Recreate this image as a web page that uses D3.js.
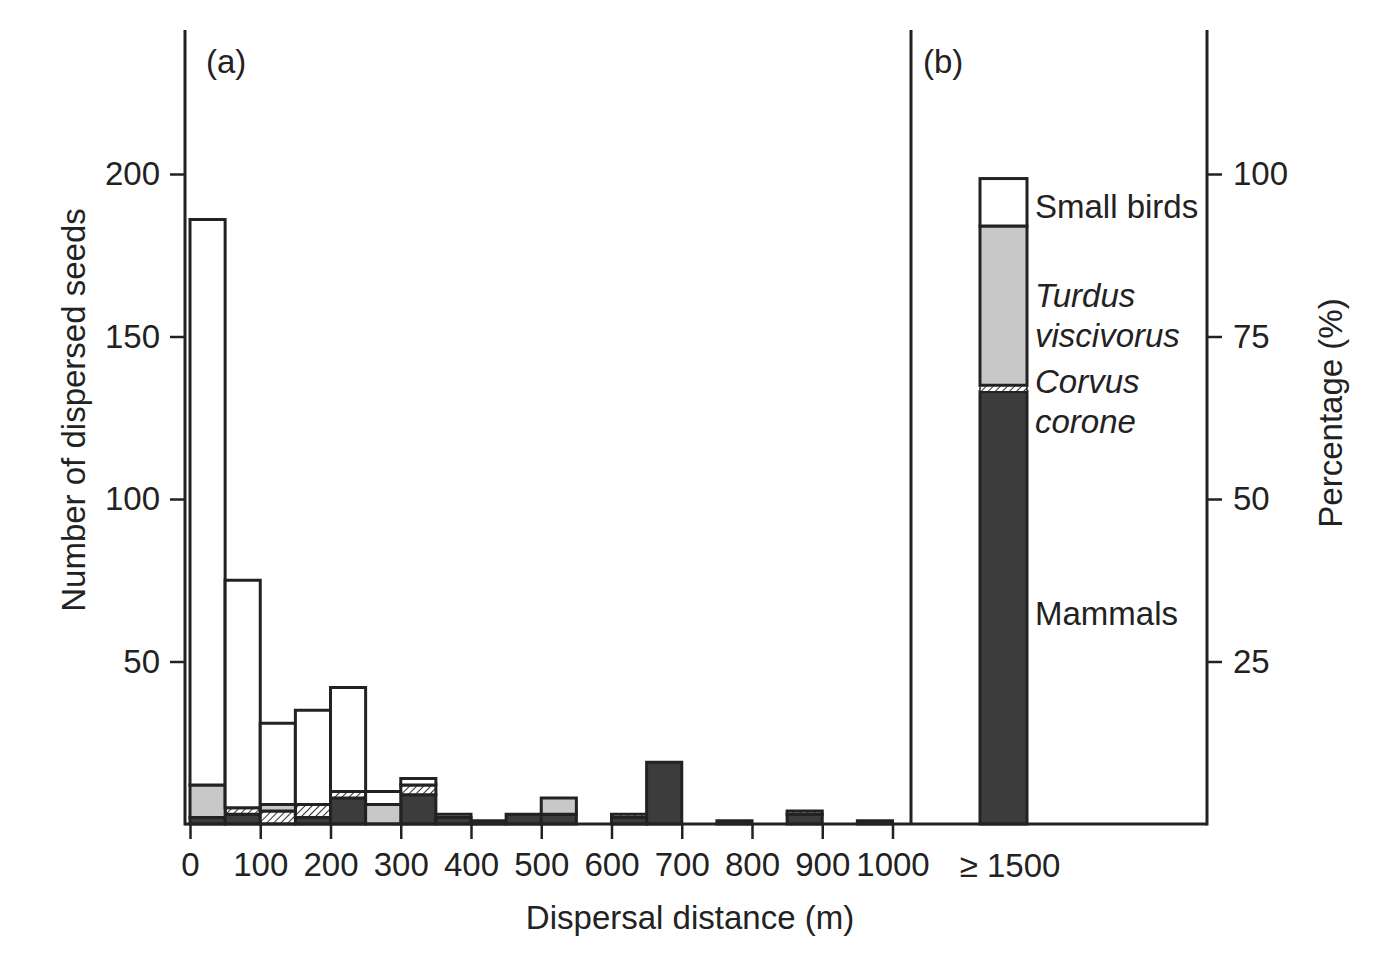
<!DOCTYPE html>
<html>
<head>
<meta charset="utf-8">
<script src="https://cdn.jsdelivr.net/npm/d3@7"></script>
<style>
  body { margin: 0; background: #fff; }
  text { font-family: "Liberation Sans", Arial, Helvetica, sans-serif; fill: #222; }
</style>
</head>
<body>
<div id="viz"></div>
<script>
var width = 1386
var height = 966

// (a) bins of 50 m, stacked counts
var binStarts = [0, 50, 100, 150, 200, 250, 300, 350, 400, 450, 500, 550, 600, 650, 700, 750, 800, 850, 900, 950];
var mammals   = [2, 3, 0, 2, 8, 0, 9, 2, 1, 3, 3, 0, 2, 19, 0, 1, 0, 3, 0, 1];
var corvus    = [0, 2, 4, 4, 2, 0, 3, 0, 0, 0, 0, 0, 1, 0, 0, 0, 0, 1, 0, 0];
var turdus    = [10, 0, 2, 0, 0, 6, 0, 1, 0, 0, 5, 0, 0, 0, 0, 0, 0, 0, 0, 0];
var smallBirds = [174, 70, 25, 29, 32, 4, 2, 0, 0, 0, 0, 0, 0, 0, 0, 0, 0, 0, 0, 0];

// (b) percentages for >= 1500 m
var pctCategory = ["≥ 1500"];
var pctMammals = [66.5];
var pctCorvus = [1];
var pctTurdus = [24.5];
var pctSmall = [7.3];

var xTicks = [0, 100, 200, 300, 400, 500, 600, 700, 800, 900, 1000];
var yTicks = [50, 100, 150, 200];
var pTicks = [25, 50, 75, 100];

var keys = ["mammals", "corvus", "turdus", "small"];

var svg = d3.select("#viz")
  .append("svg")
  .attr("width", width)
  .attr("height", height);

var defs = svg.append("defs");
var pat = defs.append("pattern")
  .attr("id", "hatch")
  .attr("patternUnits", "userSpaceOnUse")
  .attr("width", 5)
  .attr("height", 5)
  .attr("patternTransform", "rotate(45)");
pat.append("rect").attr("width", 5).attr("height", 5).attr("fill", "#fff");
pat.append("line")
  .attr("x1", 0).attr("y1", 0).attr("x2", 0).attr("y2", 5)
  .attr("stroke", "#333").attr("stroke-width", 2);

var fills = {
  mammals: "#3c3c3c",
  corvus: "url(#hatch)",
  turdus: "#c8c8c8",
  small: "#ffffff"
};

var leftX = 185, rightX = 1207, topY = 30, divider = 911;
var fs = 33;

var x = d3.scaleLinear().domain([0, 1000]).range([190, 892.5]);
var y = d3.scaleLinear().domain([0, 200]).range([824, 174]);
var yP = d3.scaleLinear().domain([0, 100]).range([824, 174]);
var xb = d3.scaleBand().domain(pctCategory).range([980, 1027]);

// table for stacking
var rows = binStarts.map(function(b, i) {
  return { start: b, mammals: mammals[i], corvus: corvus[i], turdus: turdus[i], small: smallBirds[i] };
});
var series = d3.stack().keys(keys)(rows);

var gA = svg.append("g");
series.forEach(function(s) {
  gA.selectAll(null)
    .data(s.filter(function(d) { return d[1] - d[0] > 0; }))
    .enter().append("rect")
      .attr("x", function(d) { return x(d.data.start); })
      .attr("width", function(d) { return x(d.data.start + 50) - x(d.data.start); })
      .attr("y", function(d) { return y(d[1]); })
      .attr("height", function(d) { return y(d[0]) - y(d[1]); })
      .attr("fill", fills[s.key])
      .attr("stroke", "#222")
      .attr("stroke-width", 3);
});

// panel b
var pRows = pctCategory.map(function(c, i) {
  return { cat: c, mammals: pctMammals[i], corvus: pctCorvus[i], turdus: pctTurdus[i], small: pctSmall[i] };
});
var pSeries = d3.stack().keys(keys)(pRows);
var gB = svg.append("g");
pSeries.forEach(function(s) {
  gB.selectAll(null)
    .data(s)
    .enter().append("rect")
      .attr("x", function(d) { return xb(d.data.cat); })
      .attr("width", xb.bandwidth())
      .attr("y", function(d) { return yP(d[1]); })
      .attr("height", function(d) { return yP(d[0]) - yP(d[1]); })
      .attr("fill", fills[s.key])
      .attr("stroke", "#222")
      .attr("stroke-width", s.key == "corvus" ? 1.5 : 3);
});

// axes
var lineStyle = function(sel) { sel.attr("stroke", "#222").attr("stroke-width", 3); };

svg.append("line").attr("x1", leftX).attr("x2", leftX).attr("y1", topY).attr("y2", y(0) + 1.5).call(lineStyle);
svg.append("line").attr("x1", rightX).attr("x2", rightX).attr("y1", topY).attr("y2", y(0) + 1.5).call(lineStyle);
svg.append("line").attr("x1", divider).attr("x2", divider).attr("y1", topY).attr("y2", y(0)).call(lineStyle);
svg.append("line").attr("x1", leftX).attr("x2", rightX).attr("y1", y(0)).attr("y2", y(0)).call(lineStyle);

var yAxis = svg.append("g")
  .attr("transform", "translate(" + leftX + ",0)")
  .call(d3.axisLeft(y).tickValues(yTicks).tickSize(15).tickPadding(10));
var pAxis = svg.append("g")
  .attr("transform", "translate(" + rightX + ",0)")
  .call(d3.axisRight(yP).tickValues(pTicks).tickSize(15).tickPadding(11));
var xAxis = svg.append("g")
  .attr("transform", "translate(0," + y(0) + ")")
  .call(d3.axisBottom(x).tickValues(xTicks).tickFormat(d3.format("d")).tickSize(15).tickPadding(14));

[yAxis, pAxis, xAxis].forEach(function(a) {
  a.select(".domain").remove();
  a.selectAll(".tick line").attr("stroke", "#222").attr("stroke-width", 2.5);
  a.selectAll(".tick text")
    .attr("font-size", fs)
    .attr("font-family", "'Liberation Sans', Arial, sans-serif")
    .attr("fill", "#222");
});

svg.append("text")
  .attr("x", 1010).attr("y", 877)
  .attr("text-anchor", "middle")
  .attr("font-size", fs)
  .text(pctCategory[0]);

// titles
svg.append("text")
  .attr("x", 690).attr("y", 929)
  .attr("text-anchor", "middle")
  .attr("font-size", fs)
  .text("Dispersal distance (m)");

svg.append("text")
  .attr("transform", "translate(85,410) rotate(-90)")
  .attr("text-anchor", "middle")
  .attr("font-size", fs)
  .text("Number of dispersed seeds");

svg.append("text")
  .attr("transform", "translate(1342,413) rotate(-90)")
  .attr("text-anchor", "middle")
  .attr("font-size", fs)
  .text("Percentage (%)");

svg.append("text").attr("x", 206).attr("y", 73).attr("font-size", fs).text("(a)");
svg.append("text").attr("x", 923).attr("y", 73).attr("font-size", fs).text("(b)");

// labels in panel b
var labels = [
  { t: "Small birds", y: 206, it: false },
  { t: "Turdus", y: 295, it: true },
  { t: "viscivorus", y: 335, it: true },
  { t: "Corvus", y: 381, it: true },
  { t: "corone", y: 421, it: true },
  { t: "Mammals", y: 613, it: false }
];
svg.selectAll(".lab")
  .data(labels)
  .enter().append("text")
    .attr("class", "lab")
    .attr("x", 1035)
    .attr("y", function(d) { return d.y; })
    .attr("dy", "0.35em")
    .attr("font-size", fs)
    .attr("font-style", function(d) { return d.it ? "italic" : "normal"; })
    .text(function(d) { return d.t; });
</script>
</body>
</html>
